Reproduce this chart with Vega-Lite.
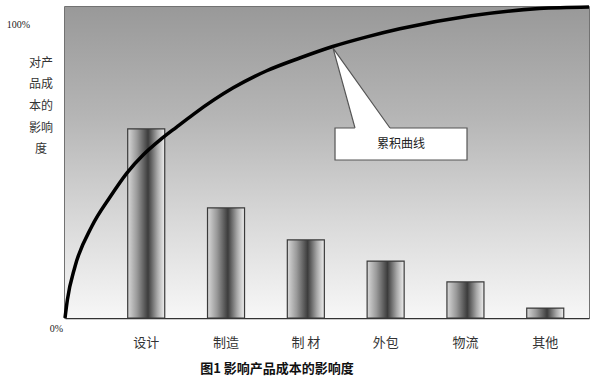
{
  "$schema": "https://vega.github.io/schema/vega-lite/v6.json",
  "width": 524,
  "height": 311,
  "autosize": {"type": "none"},
  "padding": {"left": 65, "top": 7, "right": 8, "bottom": 65},
  "background": "white",
  "config": {"view": {"stroke": "#444", "strokeWidth": 1.5}, "font": "Noto Sans CJK SC"},
  "title": {"text": "图1  影响产品成本的影响度", "orient": "bottom", "anchor": "middle", "dx": -50, "offset": 14, "fontSize": 13, "fontWeight": "bold", "font": "Noto Sans CJK SC", "color": "#111", "baseline": "top"},
  "datasets": {
    "bars": [
      {"cat": "设计", "v": 60.8},
      {"cat": "制造", "v": 35.4},
      {"cat": "制 材", "v": 25.1},
      {"cat": "外包", "v": 18.3},
      {"cat": "物流", "v": 11.6},
      {"cat": "其他", "v": 3.2}
    ],
    "curve": [
      {"x": 0, "y": 0},
      {"x": 0.45, "y": 5.8},
      {"x": 1.9, "y": 16.5},
      {"x": 5.1, "y": 29.4},
      {"x": 8.6, "y": 38.9},
      {"x": 11.8, "y": 46.6},
      {"x": 14.9, "y": 52.4},
      {"x": 18.1, "y": 57.2},
      {"x": 21.3, "y": 61.4},
      {"x": 24.5, "y": 65.5},
      {"x": 32.1, "y": 74.0},
      {"x": 38.5, "y": 79.5},
      {"x": 44.8, "y": 83.6},
      {"x": 51.1, "y": 87.3},
      {"x": 57.6, "y": 90.4},
      {"x": 63.9, "y": 93.0},
      {"x": 77.5, "y": 97.2},
      {"x": 90.5, "y": 99.5},
      {"x": 100, "y": 100}
    ],
    "box": [{"x": 51.53, "x2": 76.72, "y": 61.09, "y2": 50.8}],
    "pointer": [
      {"x": 51.15, "y": 86.8, "y2": 86.8},
      {"x": 55.34, "y": 60.7, "y2": 76.9},
      {"x": 62.02, "y": 60.7, "y2": 61.09}
    ],
    "sides": [
      {"x": 55.34, "y": 61.09, "k": 0},
      {"x": 51.15, "y": 86.8, "k": 1},
      {"x": 62.02, "y": 61.09, "k": 2}
    ],
    "label": [{"x": 64.12, "y": 55.95, "t": "累积曲线"}]
  },
  "layer": [
    {
      "data": {"values": [{}]},
      "mark": {"type": "rect", "fill": {"gradient": "linear", "x1": 0, "y1": 0, "x2": 0, "y2": 1, "stops": [{"offset": 0, "color": "#999999"}, {"offset": 0.35, "color": "#b5b5b5"}, {"offset": 0.7, "color": "#dadada"}, {"offset": 1, "color": "#f7f7f7"}]}},
      "encoding": {
        "x": {"datum": 0, "type": "quantitative", "scale": {"domain": [0, 100]}, "axis": null},
        "x2": {"datum": 100},
        "y": {"datum": 0, "type": "quantitative", "scale": {"domain": [0, 100]}, "axis": null},
        "y2": {"datum": 100}
      }
    },
    {
      "data": {"name": "bars"},
      "mark": {"type": "bar", "fill": {"gradient": "linear", "x1": 0, "y1": 0, "x2": 1, "y2": 0, "stops": [{"offset": 0, "color": "#d8d8d8"}, {"offset": 0.25, "color": "#9a9a9a"}, {"offset": 0.55, "color": "#3c3c3c"}, {"offset": 0.8, "color": "#a8a8a8"}, {"offset": 1, "color": "#f0f0f0"}]}, "stroke": "#3a3a3a", "strokeWidth": 1.2},
      "encoding": {
        "x": {"field": "cat", "type": "nominal", "sort": null,
          "scale": {"type": "band", "paddingInner": 0.536, "paddingOuter": 0.551, "align": 0.713},
          "axis": {"title": null, "labelAngle": 0, "ticks": false, "tickSize": 0, "labelPadding": 18, "labelFontSize": 13, "labelColor": "#333", "domainColor": "#333", "domainWidth": 1.5, "labelFont": "Noto Sans CJK SC", "labelBaseline": "top"}},
        "y": {"field": "v", "type": "quantitative", "scale": {"domain": [0, 100]},
          "axis": {
            "labels": false, "grid": false, "ticks": false, "tickSize": 0, "domain": false,
            "title": ["对产", "品成", "本的", "影响", "度"],
            "titleAngle": 0, "titleAlign": "center", "titleBaseline": "top",
            "titleX": -24.5, "titleY": 50, "titleFontSize": 12, "titleFontWeight": "normal",
            "titleLineHeight": 21.7, "titleColor": "#333", "titleFont": "Noto Sans CJK SC"
          }}
      }
    },
    {
      "data": {"values": [{"p": 100, "t": "100%"}]},
      "mark": {"type": "text", "font": "Liberation Serif", "fontSize": 10, "color": "#222222", "align": "right", "baseline": "middle", "dx": -35, "dy": 18},
      "encoding": {
        "x": {"datum": 0, "type": "quantitative", "scale": {"domain": [0, 100]}, "axis": null},
        "y": {"field": "p", "type": "quantitative", "axis": null},
        "text": {"field": "t"}
      }
    },
    {
      "data": {"values": [{"p": 0, "t": "0%"}]},
      "mark": {"type": "text", "font": "Liberation Serif", "fontSize": 10, "color": "#222222", "align": "right", "baseline": "middle", "dx": -2, "dy": 11},
      "encoding": {
        "x": {"datum": 0, "type": "quantitative", "scale": {"domain": [0, 100]}, "axis": null},
        "y": {"field": "p", "type": "quantitative", "axis": null},
        "text": {"field": "t"}
      }
    },
    {
      "data": {"name": "curve"},
      "mark": {"type": "line", "color": "#000000", "strokeWidth": 3.5, "interpolate": "monotone"},
      "encoding": {
        "x": {"field": "x", "type": "quantitative", "scale": {"domain": [0, 100]}, "axis": null},
        "y": {"field": "y", "type": "quantitative", "axis": null}
      }
    },
    {
      "data": {"name": "box"},
      "mark": {"type": "rect", "fill": "#ffffff", "stroke": "#555555", "strokeWidth": 1.2},
      "encoding": {
        "x": {"field": "x", "type": "quantitative", "scale": {"domain": [0, 100]}, "axis": null},
        "x2": {"field": "x2"},
        "y": {"field": "y", "type": "quantitative", "axis": null},
        "y2": {"field": "y2"}
      }
    },
    {
      "data": {"name": "pointer"},
      "mark": {"type": "area", "fill": "#ffffff", "opacity": 1, "interpolate": "linear"},
      "encoding": {
        "x": {"field": "x", "type": "quantitative", "scale": {"domain": [0, 100]}, "axis": null},
        "y": {"field": "y", "type": "quantitative", "axis": null},
        "y2": {"field": "y2"}
      }
    },
    {
      "data": {"name": "sides"},
      "mark": {"type": "line", "color": "#555555", "strokeWidth": 1.2},
      "encoding": {
        "x": {"field": "x", "type": "quantitative", "scale": {"domain": [0, 100]}, "axis": null},
        "y": {"field": "y", "type": "quantitative", "axis": null},
        "order": {"field": "k"}
      }
    },
    {
      "data": {"name": "label"},
      "mark": {"type": "text", "fontSize": 12, "color": "#222222", "font": "Noto Sans CJK SC", "align": "center", "baseline": "middle"},
      "encoding": {
        "x": {"field": "x", "type": "quantitative", "scale": {"domain": [0, 100]}, "axis": null},
        "y": {"field": "y", "type": "quantitative", "axis": null},
        "text": {"field": "t"}
      }
    }
  ],
  "resolve": {"scale": {"x": "independent"}, "axis": {"x": "independent", "y": "independent"}}
}
